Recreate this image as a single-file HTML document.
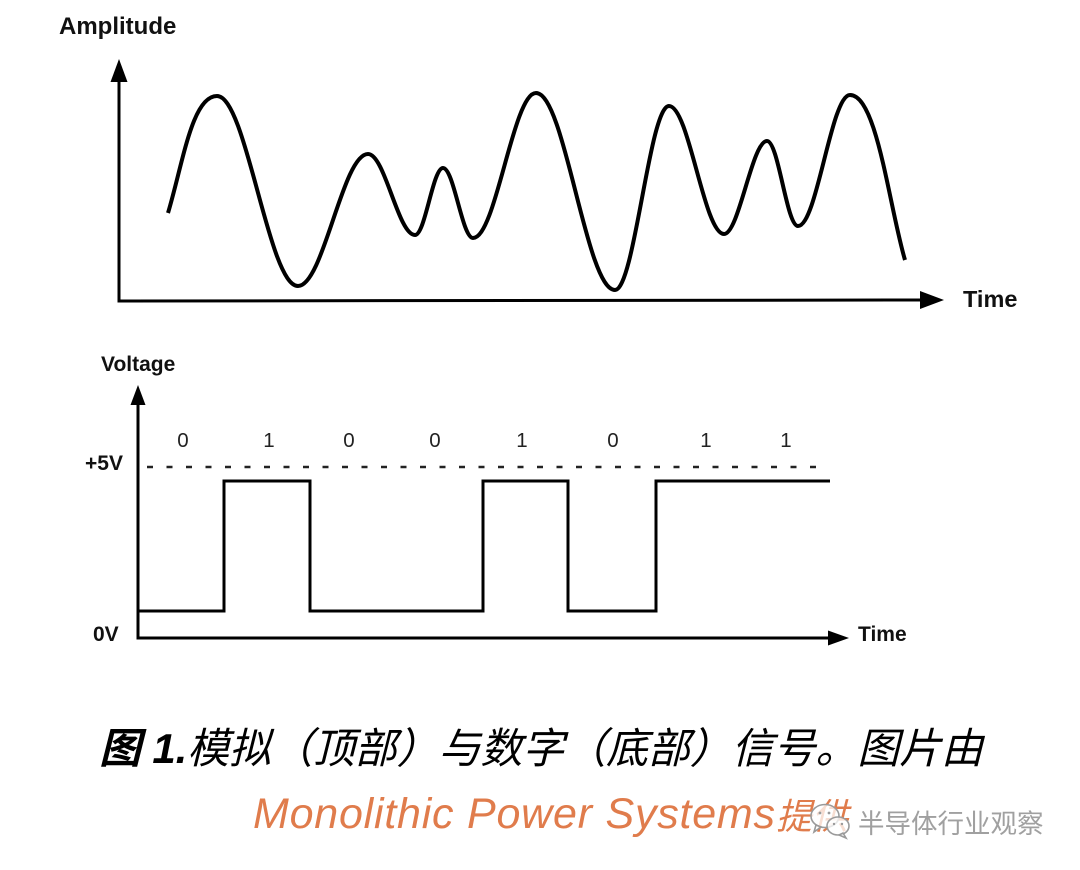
<!DOCTYPE html>
<html>
<head>
<meta charset="utf-8">
<style>
  html, body { margin: 0; padding: 0; background: #ffffff; }
  body { width: 1080px; height: 870px; overflow: hidden; }
  svg { display: block; }
</style>
</head>
<body>
<svg width="1080" height="870" viewBox="0 0 1080 870" xmlns="http://www.w3.org/2000/svg">
  <rect x="0" y="0" width="1080" height="870" fill="#ffffff"/>

  <!-- ===== Analog (top) ===== -->
  <text x="59" y="34" font-family="Liberation Sans, Arial, sans-serif" font-weight="bold" font-size="24" fill="#111">Amplitude</text>

  <!-- Y axis -->
  <line x1="119" y1="80" x2="119" y2="302" stroke="#000" stroke-width="3"/>
  <polygon points="119,59 110.5,82 127.5,82" fill="#000"/>
  <!-- X axis -->
  <line x1="117.5" y1="301" x2="922" y2="300" stroke="#000" stroke-width="3"/>
  <polygon points="920,291 944,300 920,309" fill="#000"/>
  <text x="963" y="307" font-family="Liberation Sans, Arial, sans-serif" font-weight="bold" font-size="23.5" fill="#111">Time</text>

  <!-- Analog waveform -->
  <path d="M168,213
           C183,163 192,96 217,96
           C246.5,96 268.5,286 298,286
           C323.5,286 342.5,154 368,154
           C385,154 398,235 415,235
           C425.2,235 432.8,168 443,168
           C453.9,168 462.1,238 473,238
           C496,238 513,93 536,93
           C565,93 586,290 615,290
           C634.5,290 649.5,106 669,106
           C689,106 704,234 724,234
           C739,234 752,141 767,141
           C778.5,141 786.5,226 798,226
           C817,226 831,95 850,95
           C877,95 889,206 905,260"
        fill="none" stroke="#000" stroke-width="4" stroke-linecap="butt" stroke-linejoin="round"/>

  <!-- ===== Digital (bottom) ===== -->
  <text x="101" y="371" font-family="Liberation Sans, Arial, sans-serif" font-weight="bold" font-size="21" fill="#111">Voltage</text>

  <!-- Y axis -->
  <line x1="138" y1="402" x2="138" y2="639.5" stroke="#000" stroke-width="3"/>
  <polygon points="138,385 130.5,405 145.5,405" fill="#000"/>
  <!-- X axis -->
  <line x1="136.5" y1="638" x2="830" y2="638" stroke="#000" stroke-width="3"/>
  <polygon points="828,630.5 849,638 828,645.5" fill="#000"/>
  <text x="858" y="641" font-family="Liberation Sans, Arial, sans-serif" font-weight="bold" font-size="21" fill="#111">Time</text>

  <text x="85" y="470" font-family="Liberation Sans, Arial, sans-serif" font-weight="bold" font-size="21" fill="#111">+5V</text>
  <text x="93" y="641" font-family="Liberation Sans, Arial, sans-serif" font-weight="bold" font-size="21" fill="#111">0V</text>

  <!-- dashed +5V reference -->
  <line x1="147" y1="467" x2="822" y2="467" stroke="#222" stroke-width="2.5" stroke-dasharray="6 13.5"/>

  <!-- bit labels -->
  <g font-family="Liberation Sans, Arial, sans-serif" font-size="20.5" fill="#222" text-anchor="middle">
    <text x="183" y="447">0</text>
    <text x="269" y="447">1</text>
    <text x="349" y="447">0</text>
    <text x="435" y="447">0</text>
    <text x="522" y="447">1</text>
    <text x="613" y="447">0</text>
    <text x="706" y="447">1</text>
    <text x="786" y="447">1</text>
  </g>

  <!-- digital waveform -->
  <polyline points="138,611 224,611 224,481 310,481 310,611 483,611 483,481 568,481 568,611 656,611 656,481 830,481"
            fill="none" stroke="#000" stroke-width="3" stroke-linejoin="miter"/>

  <!-- ===== Caption ===== -->
  <text x="99" y="763" font-family="Liberation Sans, 'Noto Sans CJK SC', sans-serif" font-size="42" font-style="italic" fill="#000" textLength="884" lengthAdjust="spacing"><tspan font-weight="bold">图 1.</tspan>模拟（顶部）与数字（底部）信号。图片由</text>

  <text x="253" y="828" font-family="Liberation Sans, Arial, sans-serif" font-size="43" font-style="italic" fill="#e07c4c" textLength="522" lengthAdjust="spacing">Monolithic Power Systems</text>
  <text x="776" y="829" font-family="'Noto Sans CJK SC', sans-serif" font-size="36" font-style="italic" fill="#e07c4c">提供</text>

  <!-- watermark -->
  <g fill="#ffffff" fill-opacity="0.75" stroke="#9a9a9a" stroke-width="1.6">
    <ellipse cx="825" cy="816" rx="14" ry="11.5"/>
    <path d="M816,825 L814,832 L821,827 Z"/>
    <ellipse cx="838" cy="826" rx="11" ry="9"/>
    <path d="M843,833 L846,838 L839,835 Z"/>
  </g>
  <g fill="#9a9a9a">
    <circle cx="820" cy="813" r="1.4"/>
    <circle cx="829" cy="813" r="1.4"/>
    <circle cx="834" cy="824" r="1.2"/>
    <circle cx="842" cy="824" r="1.2"/>
  </g>
  <text x="858" y="833" font-family="'Noto Sans CJK SC', 'WenQuanYi Zen Hei', sans-serif" font-size="26.5" fill="#a0a0a0" stroke="#ffffff" stroke-width="0.6" paint-order="stroke">半导体行业观察</text>
</svg>
</body>
</html>
